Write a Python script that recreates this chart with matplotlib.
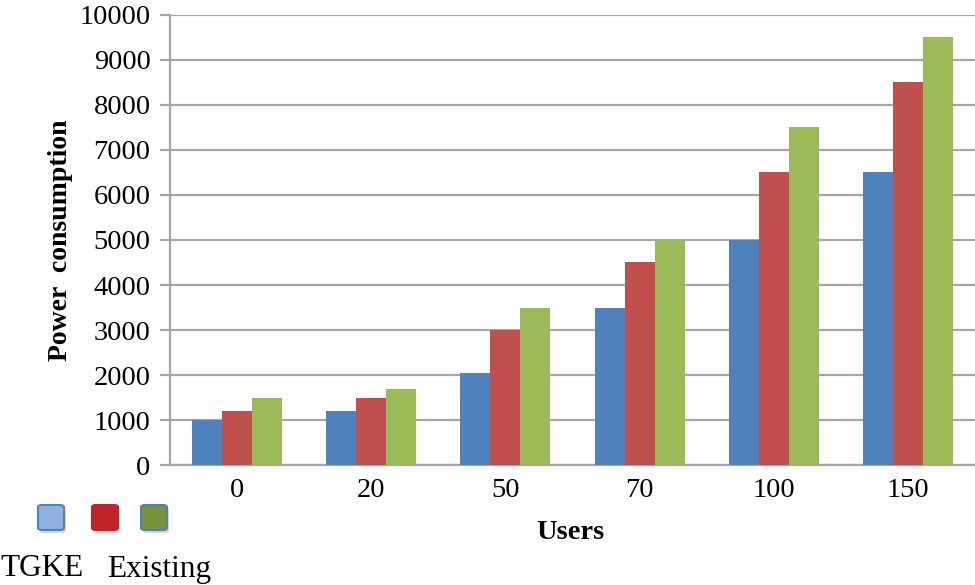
import matplotlib.pyplot as plt
import matplotlib.patches as mpatches
import numpy as np

users = ['0', '20', '50', '70', '100', '150']
tgke = [1000, 1200, 2050, 3500, 5000, 6500]
series_b = [1200, 1500, 3000, 4500, 6500, 8500]
existing = [1500, 1700, 3500, 5000, 7500, 9500]
colors = ['#4F81BD', '#C0504D', '#9BBB59']

plt.rcParams['font.family'] = ['Liberation Serif', 'DejaVu Serif']

fig = plt.figure(figsize=(9.75, 5.85), dpi=100)
ax = fig.add_axes([0.1744, 0.2051, 0.8256, 0.7693])

x = np.arange(len(users))
w = 0.2235
for i, vals in enumerate([tgke, series_b, existing]):
    ax.bar(x + (i - 1) * w, vals, w, color=colors[i], zorder=3)

ax.set_xlim(-0.5, len(users) - 0.5)
ax.set_ylim(0, 10000)
ax.set_yticks(np.arange(0, 10001, 1000))
ax.set_xticks(x)
ax.set_xticklabels(users)
ax.yaxis.grid(True, color='#A6A6A6', linewidth=1.6, zorder=0)
for s in ['top', 'right']:
    ax.spines[s].set_visible(False)
for s in ['left', 'bottom']:
    ax.spines[s].set_color('#A6A6A6')
    ax.spines[s].set_linewidth(1.6)
ax.tick_params(axis='y', length=7, width=1.6, color='#A6A6A6', labelsize=20.5, pad=7)
ax.tick_params(axis='x', length=0, labelsize=20.5, pad=9)

ax.set_ylabel('Power  consumption', fontsize=20, fontweight='bold', labelpad=5)
fig.text(0.585, 0.089, 'Users', fontsize=20.5, fontweight='bold', ha='center', va='center')

# legend-like squares drawn in figure coordinates
sq = [(38, '#8FB2E0', '#4F81BD'), (92, '#C1232A', '#C1232A'), (141, '#77933C', '#4F81BD')]
W, H = 975, 585
for px, fc, ec in sq:
    shadow = mpatches.FancyBboxPatch(((px + 2) / W, 1 - 533 / H), 26 / W, 25 / H,
                                     boxstyle='round,pad=0,rounding_size=0.004',
                                     transform=fig.transFigure, fc='#BBBBBB', ec='none', alpha=0.6)
    fig.patches.append(shadow)
    box = mpatches.FancyBboxPatch((px / W, 1 - 530 / H), 26 / W, 25 / H,
                                  boxstyle='round,pad=0,rounding_size=0.004',
                                  transform=fig.transFigure, fc=fc, ec=ec, lw=1.5)
    fig.patches.append(box)

fig.text(0.0, 1 - 569 / H, 'TGKE', fontsize=22.5, ha='left', va='center')
fig.text(107 / W, 1 - 569 / H, 'Existing', fontsize=22.5, ha='left', va='center')

fig.savefig('out.png', dpi=100)
